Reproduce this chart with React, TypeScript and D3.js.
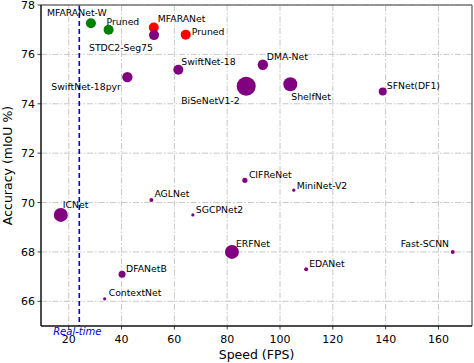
import React from "react";
import * as d3 from "d3";

const names = ["MFARANet-W","Pruned","MFARANet","Pruned","STDC2-Seg75","SwiftNet-18pyr","SwiftNet-18","BiSeNetV1-2","DMA-Net","ShelfNet","SFNet(DF1)","ICNet","AGLNet","SGCPNet2","CIFReNet","MiniNet-V2","ERFNet","Fast-SCNN","EDANet","DFANetB","ContextNet"];
const fps = [28.4,35.1,52.2,64.3,52.3,42.2,61.5,87.2,93.5,103.9,138.9,17.0,51.3,67.0,86.7,105.2,81.8,165.4,109.9,40.2,33.6];
const miou = [77.26,77.0,77.09,76.8,76.78,75.08,75.38,74.71,75.58,74.79,74.5,69.5,70.1,69.5,70.9,70.5,68.0,68.0,67.3,67.1,66.1];
const groups = ["green","green","red","red","purple","purple","purple","purple","purple","purple","purple","purple","purple","purple","purple","purple","purple","purple","purple","purple","purple"];
const sizes = [5,5,5,5,5,5.2,5,9.5,5.2,7,4,7,2,1.6,2.6,1.6,7,2,2,3.5,1.6];
const labelOffsets: [number, number][] = [[-44,-7],[-2,-5],[4,-5],[6,0],[-65,16],[-76,13],[3,-5],[-65,18],[4,-5],[1,16],[4,-2],[2,-7],[3,-3],[3,-2],[4,-2],[3,-1],[4,-5],[-52,-5],[3,-2],[4,-2],[4,-3]];
const xTicks = [20,40,60,80,100,120,140,160];
const yTicks = [66,68,70,72,74,76,78];
const realTimeFps = 24;

const colors: Record<string, string> = { green: "#008000", red: "#ff0000", purple: "#800080" };

export default function App() {
  const W = 474, H = 363;
  const m = { l: 41, r: 2, t: 5, b: 37 };
  const x = d3.scaleLinear().domain([9.5, 172.7]).range([m.l, W - m.r]);
  const y = d3.scaleLinear().domain([65, 78]).range([H - m.b, m.t]);
  const font = "DejaVu Sans, sans-serif";
  const grid = "#c8c8c8";
  return (
    <svg width={W} height={H} style={{ position: "absolute", left: 0, top: 0, background: "#fff" }} fontFamily={font}>
      {xTicks.map(t => (
        <line key={"gx" + t} x1={x(t)} x2={x(t)} y1={m.t} y2={H - m.b} stroke={grid} strokeWidth={1} strokeDasharray="6,2,1.5,2" />
      ))}
      {yTicks.map(t => (
        <line key={"gy" + t} x1={m.l} x2={W - m.r} y1={y(t)} y2={y(t)} stroke={grid} strokeWidth={1} strokeDasharray="6,2,1.5,2" />
      ))}
      <line x1={x(realTimeFps)} x2={x(realTimeFps)} y1={m.t} y2={H - m.b} stroke="#0000cc" strokeWidth={1.6} strokeDasharray="5,3" />
      {names.map((n, i) => (
        <circle key={"c" + i} cx={x(fps[i])} cy={y(miou[i])} r={sizes[i]} fill={colors[groups[i]]} />
      ))}
      {names.map((n, i) => (
        <text key={"t" + i} x={x(fps[i]) + labelOffsets[i][0]} y={y(miou[i]) + labelOffsets[i][1]} fontSize={9.3} fill="#000">{n}</text>
      ))}
      <line x1={m.l} x2={W - m.r} y1={m.t} y2={m.t} stroke="#777" strokeWidth={1.5} />
      <line x1={W - m.r} x2={W - m.r} y1={m.t} y2={H - m.b} stroke="#777" strokeWidth={1.5} />
      <line x1={m.l} x2={m.l} y1={m.t} y2={H - m.b} stroke="#111" strokeWidth={1.5} />
      <line x1={m.l} x2={W - m.r} y1={H - m.b} y2={H - m.b} stroke="#111" strokeWidth={1.5} />
      {xTicks.map(t => (
        <line key={"xm" + t} x1={x(t)} x2={x(t)} y1={H - m.b} y2={H - m.b + 3.5} stroke="#111" strokeWidth={0.8} />
      ))}
      {yTicks.map(t => (
        <line key={"ym" + t} x1={m.l - 3.5} x2={m.l} y1={y(t)} y2={y(t)} stroke="#111" strokeWidth={0.8} />
      ))}
      {xTicks.map(t => (
        <text key={"xt" + t} x={x(t)} y={H - m.b + 17} fontSize={11} textAnchor="middle" fill="#000">{t}</text>
      ))}
      {yTicks.map(t => (
        <text key={"yt" + t} x={m.l - 6} y={y(t) + 4} fontSize={11} textAnchor="end" fill="#000">{t}</text>
      ))}
      <text x={x(realTimeFps) - 2} y={H - m.b + 9} fontSize={10} fontStyle="italic" fill="#0000cc" textAnchor="middle">Real-time</text>
      <text x={(m.l + W - m.r) / 2} y={H - 4} fontSize={12.5} textAnchor="middle" fill="#000">Speed (FPS)</text>
      <text transform={`translate(12,${(m.t + H - m.b) / 2}) rotate(-90)`} fontSize={12.5} textAnchor="middle" fill="#000">Accuracy (mIoU %)</text>
    </svg>
  );
}
